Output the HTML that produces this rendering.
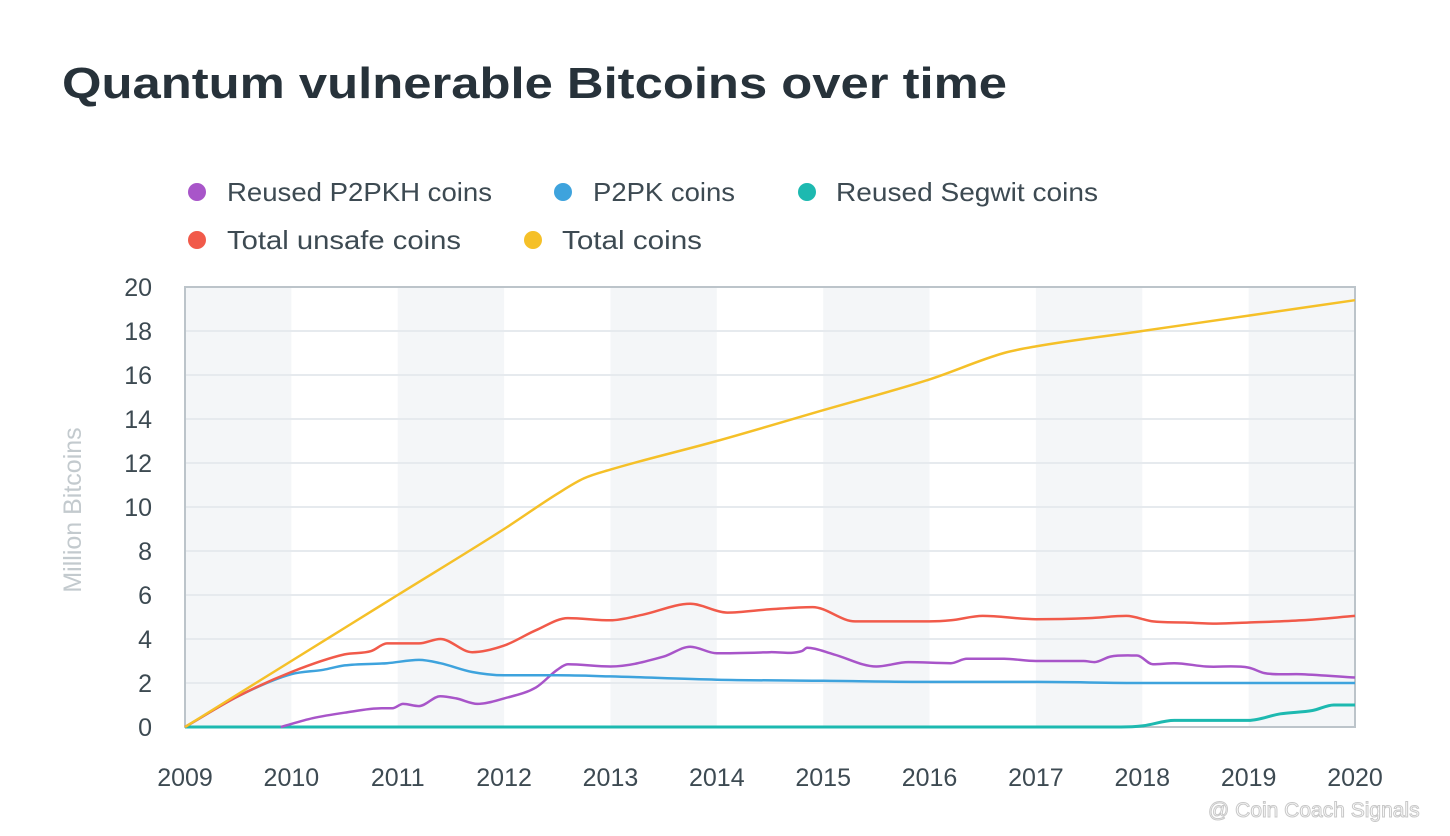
<!DOCTYPE html>
<html><head><meta charset="utf-8"><style>
body{margin:0;background:#fff;}
svg{display:block;font-family:"Liberation Sans",sans-serif;}
</style></head><body>
<svg id="chart" width="1450" height="836" viewBox="0 0 1450 836" xmlns="http://www.w3.org/2000/svg">
<text x="62" y="98" font-size="44" font-weight="bold" fill="#27323a" textLength="945" lengthAdjust="spacingAndGlyphs">Quantum vulnerable Bitcoins over time</text>
<g font-size="26" fill="#3d4a52">
<g><circle cx="197" cy="192" r="9" fill="#a855c9"/><text x="227" y="201" textLength="265" lengthAdjust="spacingAndGlyphs">Reused P2PKH coins</text></g>
<g><circle cx="563" cy="192" r="9" fill="#3ea3dd"/><text x="593" y="201" textLength="142" lengthAdjust="spacingAndGlyphs">P2PK coins</text></g>
<g><circle cx="807" cy="192" r="9" fill="#1db9b0"/><text x="836" y="201" textLength="262" lengthAdjust="spacingAndGlyphs">Reused Segwit coins</text></g>
<g><circle cx="197" cy="240" r="9" fill="#f15a4a"/><text x="227" y="249" textLength="234" lengthAdjust="spacingAndGlyphs">Total unsafe coins</text></g>
<g><circle cx="533" cy="240" r="9" fill="#f5c028"/><text x="562" y="249" textLength="140" lengthAdjust="spacingAndGlyphs">Total coins</text></g>
</g>
<g id="plot"></g>
<text transform="translate(81,510) rotate(-90)" text-anchor="middle" font-size="25" fill="#c3cace">Million Bitcoins</text>
<text x="1208" y="817" font-size="21" fill="#fff" stroke="#c8c8c8" stroke-width="1">@ Coin Coach Signals</text>
</svg>
<script>
const yearTicks=[2009,2010,2011,2012,2013,2014,2015,2016,2017,2018,2019,2020];
const yTicks=[0,2,4,6,8,10,12,14,16,18,20];
const totalX=[2009,2010,2011,2012,2012.5,2012.75,2013,2014,2015,2016,2016.7,2017,2018,2019,2020];
const totalY=[0,3.0,6.0,9.0,10.6,11.3,11.7,13,14.4,15.8,17,17.3,18,18.7,19.4];
const unsafeX=[2009,2009.5,2010,2010.5,2010.75,2010.9,2011.2,2011.4,2011.7,2012,2012.3,2012.6,2013,2013.3,2013.75,2014.1,2014.5,2014.9,2015.3,2016,2016.2,2016.5,2017,2017.5,2017.85,2018.1,2018.4,2018.7,2019,2019.5,2020];
const unsafeY=[0,1.4,2.5,3.3,3.45,3.8,3.8,4.0,3.4,3.7,4.4,4.95,4.85,5.1,5.6,5.2,5.35,5.45,4.8,4.8,4.85,5.05,4.9,4.95,5.05,4.8,4.75,4.7,4.75,4.85,5.05];
const p2pkX=[2009,2009.5,2010,2010.3,2010.5,2010.9,2011.2,2011.4,2011.7,2012,2012.5,2013,2014,2015,2016,2017,2018,2020];
const p2pkY=[0,1.4,2.4,2.6,2.8,2.9,3.05,2.9,2.5,2.35,2.35,2.3,2.15,2.1,2.05,2.05,2.0,2.0];
const p2pkhX=[2009.9,2010.2,2010.5,2010.85,2010.95,2011.05,2011.2,2011.4,2011.55,2011.75,2012,2012.3,2012.5,2012.6,2013,2013.5,2013.75,2014,2014.5,2014.8,2014.85,2015.1,2015.5,2015.8,2016.2,2016.35,2016.7,2017,2017.45,2017.55,2017.7,2017.95,2018.1,2018.3,2018.6,2019,2019.15,2019.5,2020];
const p2pkhY=[0,0.4,0.65,0.85,0.85,1.05,0.95,1.4,1.3,1.05,1.3,1.8,2.6,2.85,2.75,3.2,3.65,3.35,3.4,3.45,3.6,3.3,2.75,2.95,2.9,3.1,3.1,3.0,3.0,2.95,3.2,3.25,2.85,2.9,2.75,2.7,2.45,2.4,2.25];
const segwitX=[2009,2017.8,2018,2018.3,2019,2019.3,2019.6,2019.8,2020];
const segwitY=[0,0,0.05,0.3,0.3,0.6,0.75,1.0,1.0];

const X0=185,X1=1355,Y0=727,Y1=287;
const xs=v=>X0+(v-2009)/(2020-2009)*(X1-X0);
const ys=v=>Y0-v/20*(Y0-Y1);
const NS='http://www.w3.org/2000/svg';
const plot=document.getElementById('plot');
function mk(t,a,p){const e=document.createElementNS(NS,t);for(const k in a)e.setAttribute(k,a[k]);(p||plot).appendChild(e);return e;}
for(let i=0;i<yearTicks.length-1;i+=2){
  const r=mk('rect',{x:xs(yearTicks[i]),y:Y1,width:xs(yearTicks[i+1])-xs(yearTicks[i]),height:Y0-Y1,fill:'#f4f6f8'});
  
  
}
yTicks.forEach(v=>{
  if(v>0&&v<20){const l=mk('line',{x1:X0,x2:X1,y1:ys(v),y2:ys(v),stroke:'#e6eaee','stroke-width':2});
  
  }
  const t=mk('text',{x:152,y:ys(v)+9,'text-anchor':'end','font-size':25,fill:'#3d4a52'});
  t.textContent=v;
  
  
});
yearTicks.forEach(v=>{
  const t=mk('text',{x:xs(v),y:786,'text-anchor':'middle','font-size':25,fill:'#3d4a52'});
  t.textContent=v;
  
  
});
const fr=mk('path',{d:`M${X0},${Y1}H${X1}V${Y0}H${X0}Z`,fill:'none',stroke:'#bcc4ca','stroke-width':2});


function path(X,Y){
  const p=X.map((x,i)=>[xs(x),ys(Y[i])]);
  const n=p.length, sec=[], m=[];
  for(let i=0;i<n-1;i++)sec.push((p[i+1][1]-p[i][1])/(p[i+1][0]-p[i][0]));
  for(let i=0;i<n;i++){
    if(i===0)m.push(sec[0]);else if(i===n-1)m.push(sec[n-2]);
    else m.push(sec[i-1]*sec[i]<=0?0:(sec[i-1]+sec[i])/2);
  }
  let d=`M${p[0][0]},${p[0][1]}`;
  for(let i=0;i<n-1;i++){
    const dx=(p[i+1][0]-p[i][0])/3;
    d+=` C${p[i][0]+dx},${p[i][1]+m[i]*dx} ${p[i+1][0]-dx},${p[i+1][1]-m[i+1]*dx} ${p[i+1][0]},${p[i+1][1]}`;
  }
  return d;
}
[[segwitX,segwitY,'#1db9b0','line-reused-segwit',3],[p2pkhX,p2pkhY,'#a855c9','line-reused-p2pkh',2.5],[p2pkX,p2pkY,'#3ea3dd','line-p2pk',2.5],[unsafeX,unsafeY,'#f15a4a','line-total-unsafe',2.5],[totalX,totalY,'#f5c028','line-total-coins',2.5]].forEach(s=>{
  const l=mk('path',{d:path(s[0],s[1]),fill:'none',stroke:s[2],'stroke-width':s[4]});
  
  
});
</script>
</body></html>
